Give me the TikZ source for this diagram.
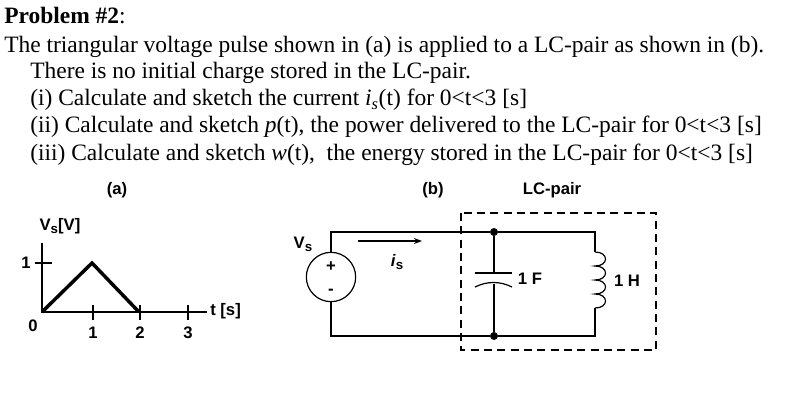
\documentclass[tikz,border=0pt]{standalone}
\usepackage{fontspec}
\usetikzlibrary{arrows.meta}
\setmainfont{Liberation Serif}
\newfontfamily\lsans{Liberation Sans}
\newcommand{\sbs}[1]{\raisebox{-0.35ex}{\fontsize{10}{11}\selectfont #1}}
\begin{document}
\begin{tikzpicture}[x=0.75pt,y=-0.75pt,
  txt/.style={anchor=west,inner sep=0,font=\fontsize{17.6}{19}\selectfont},
  lab/.style={inner sep=0,font=\lsans\bfseries\fontsize{12.5}{14}\selectfont},
  wire/.style={line width=0.9pt},
  dot/.style={circle,fill,inner sep=0,minimum size=6pt}]
\useasboundingbox (0,0) rectangle (796,411);
\node[txt] (t1) at (4,16) {\textbf{Problem \#2}:};
\node[txt] (t2) at (4,47) {The triangular voltage pulse shown in (a) is applied to a LC-pair as shown in (b).};
\node[txt] (t3) at (30,73) {There is no initial charge stored in the LC-pair.};
\node[txt] (t4) at (30,100) {(i) Calculate and sketch the current \textit{i}\textsubscript{\textit{s}}(t) for 0<t<3 [s]};
\node[txt] (t5) at (30,127) {(ii) Calculate and sketch \textit{p}(t), the power delivered to the LC-pair for 0<t<3 [s]};
\node[txt] (t6) at (30,155) {(iii) Calculate and sketch \textit{w}(t), \ the energy stored in the LC-pair for 0<t<3 [s]};
% (a)
\node[lab] (la) at (117,190) {(a)};
\coordinate (O) at (42,312);
\coordinate (ytop) at (42,243);
\coordinate (xend) at (207,312);
\draw[wire] (ytop) -- (O) -- (xend);
\draw[wire] (35,263) -- (52,263);
\foreach \x in {93,140,188} \draw[wire] (\x,305) -- (\x,320);
\coordinate (p1) at (92,263);
\coordinate (p2) at (139,312);
\draw[line width=2.6pt,line join=miter] (O) -- (p1) -- (p2);
\node[lab] (vsv) at (60,226) {V\sbs{s}[V]};
\node[lab] (y1) at (26,263) {1};
\node[lab] (y0) at (33,326) {0};
\node[lab] (x1) at (93,333) {1};
\node[lab] (x2) at (140,333) {2};
\node[lab] (x3) at (188,333) {3};
\node[lab,anchor=west] (ts) at (210,311) {t [s]};
% (b)
\node[lab] (lb) at (433,190) {(b)};
\node[lab] (lc) at (552,190) {LC-pair};
\node[draw,circle,wire,minimum size=37pt,inner sep=0] (src) at (331,277) {};
\node[lab] at (331,267) {+};
\node[lab] at (331,292) {-};
\node[lab] (vs) at (303,244) {V\sbs{s}};
\coordinate (tl) at (331,232); \coordinate (bl) at (331,336);
\node[dot] (jt) at (494,232) {}; \node[dot] (jb) at (494,336) {};
\coordinate (tr) at (595,232); \coordinate (br) at (595,336);
\draw[wire] (src.north) -- (tl) -- (jt) -- (tr) -- (595,252);
\draw[wire] (src.south) -- (bl) -- (jb) -- (br) -- (595,308);
\draw[wire] (595,252) \foreach \y in {252,266,280,294} { .. controls (609,\y) and (609,\y+14) .. (595,\y+14) };
\draw[wire] (jt) -- (494,273) (494,284) -- (jb);
\draw[wire] (475,273) -- (512,273);
\draw[wire] (475,287) .. controls (487,281) and (500,281) .. (512,287);
\node[lab] (cf) at (530,279) {1 F};
\node[lab] (lh) at (627,281) {1 H};
\draw[wire,-{Stealth[length=6pt]}] (358,241) -- (422,241);
\node[lab] (is) at (397,262) {\textit{i}\sbs{s}};
\draw[wire,dash pattern=on 6pt off 4pt] (461,213) rectangle (656,350);
\end{tikzpicture}
\end{document}
